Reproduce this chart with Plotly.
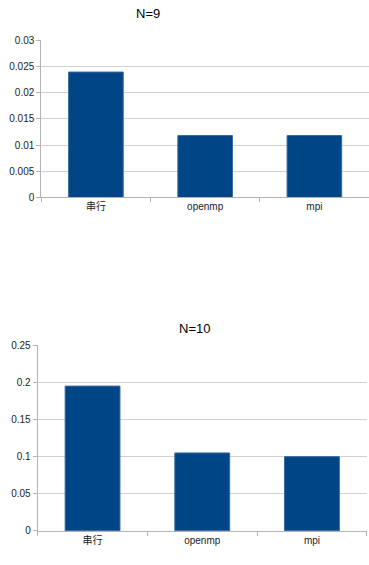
import plotly.graph_objects as go

W, H = 369, 565

categories = ["串行", "openmp", "mpi"]
values_n9 = [0.0239, 0.0118, 0.0118]
values_n10 = [0.195, 0.105, 0.100]
titles = ["N=9", "N=10"]
y_ticks_n9 = [0, 0.005, 0.01, 0.015, 0.02, 0.025, 0.03]
y_ticks_n10 = [0, 0.05, 0.1, 0.15, 0.2, 0.25]

BAR = "#004586"
BAR_EDGE = "#3a6b9c"
GRID = "#d0d0d0"
AXIS = "#b3b3b3"
FONT = "Liberation Sans, Noto Sans CJK SC, sans-serif"

def px_x(x):
    return x / W

def px_y(y):
    return (H - y) / H

fig = go.Figure()
fig.add_trace(go.Bar(x=categories, y=values_n9, width=0.5,
                     marker=dict(color=BAR, line=dict(width=1, color=BAR_EDGE)),
                     xaxis="x", yaxis="y", showlegend=False))
fig.add_trace(go.Bar(x=categories, y=values_n10, width=0.5,
                     marker=dict(color=BAR, line=dict(width=1, color=BAR_EDGE)),
                     xaxis="x2", yaxis="y2", showlegend=False))

def xax(domain, anchor):
    return dict(domain=domain, anchor=anchor, showline=True, linecolor=AXIS, linewidth=1,
                ticks="outside", tickson="boundaries", ticklen=4, tickcolor=AXIS,
                showgrid=False, tickfont=dict(family=FONT, size=10, color="#222"),
                fixedrange=True, range=[-0.5, 2.5])

def yax(domain, anchor, rng, tickvals):
    return dict(domain=domain, anchor=anchor, range=rng, tickvals=tickvals,
                ticktext=[("%g" % v) for v in tickvals],
                showline=True, linecolor=AXIS, linewidth=1, ticks="outside", ticklen=4,
                tickcolor=AXIS, showgrid=True, gridcolor=GRID, gridwidth=1,
                zeroline=False, tickfont=dict(family=FONT, size=10, color="#222"),
                fixedrange=True)

fig.update_layout(
    width=W, height=H,
    margin=dict(l=0, r=0, t=0, b=0),
    paper_bgcolor="white", plot_bgcolor="white",
    bargap=0.5,
    xaxis=xax([px_x(41.3), 1.0], "y"),
    yaxis=yax([px_y(195.3), px_y(34.7)], "x", [0, 0.03], y_ticks_n9),
    xaxis2=xax([px_x(37.7), px_x(366.8)], "y2"),
    yaxis2=yax([px_y(535.3), px_y(346)], "x2", [0, 0.25], y_ticks_n10),
    annotations=[
        dict(text=titles[0], x=px_x(148), y=px_y(7.5), xref="paper", yref="paper",
             showarrow=False, xanchor="center", yanchor="middle",
             font=dict(family=FONT, size=13, color="#000")),
        dict(text=titles[1], x=px_x(194), y=px_y(329), xref="paper", yref="paper",
             showarrow=False, xanchor="center", yanchor="middle",
             font=dict(family=FONT, size=13, color="#000")),
    ],
)

post = (
    "document.documentElement.style.margin='0';"
    "document.documentElement.style.overflow='hidden';"
    "document.body.style.margin='0';"
    "document.body.style.overflow='hidden';"
    "var d=document.getElementById('{plot_id}');"
    "d.style.position='fixed';d.style.top='0px';d.style.left='0px';"
)

fig.write_html("out.html", config={"displayModeBar": False}, post_script=post)
